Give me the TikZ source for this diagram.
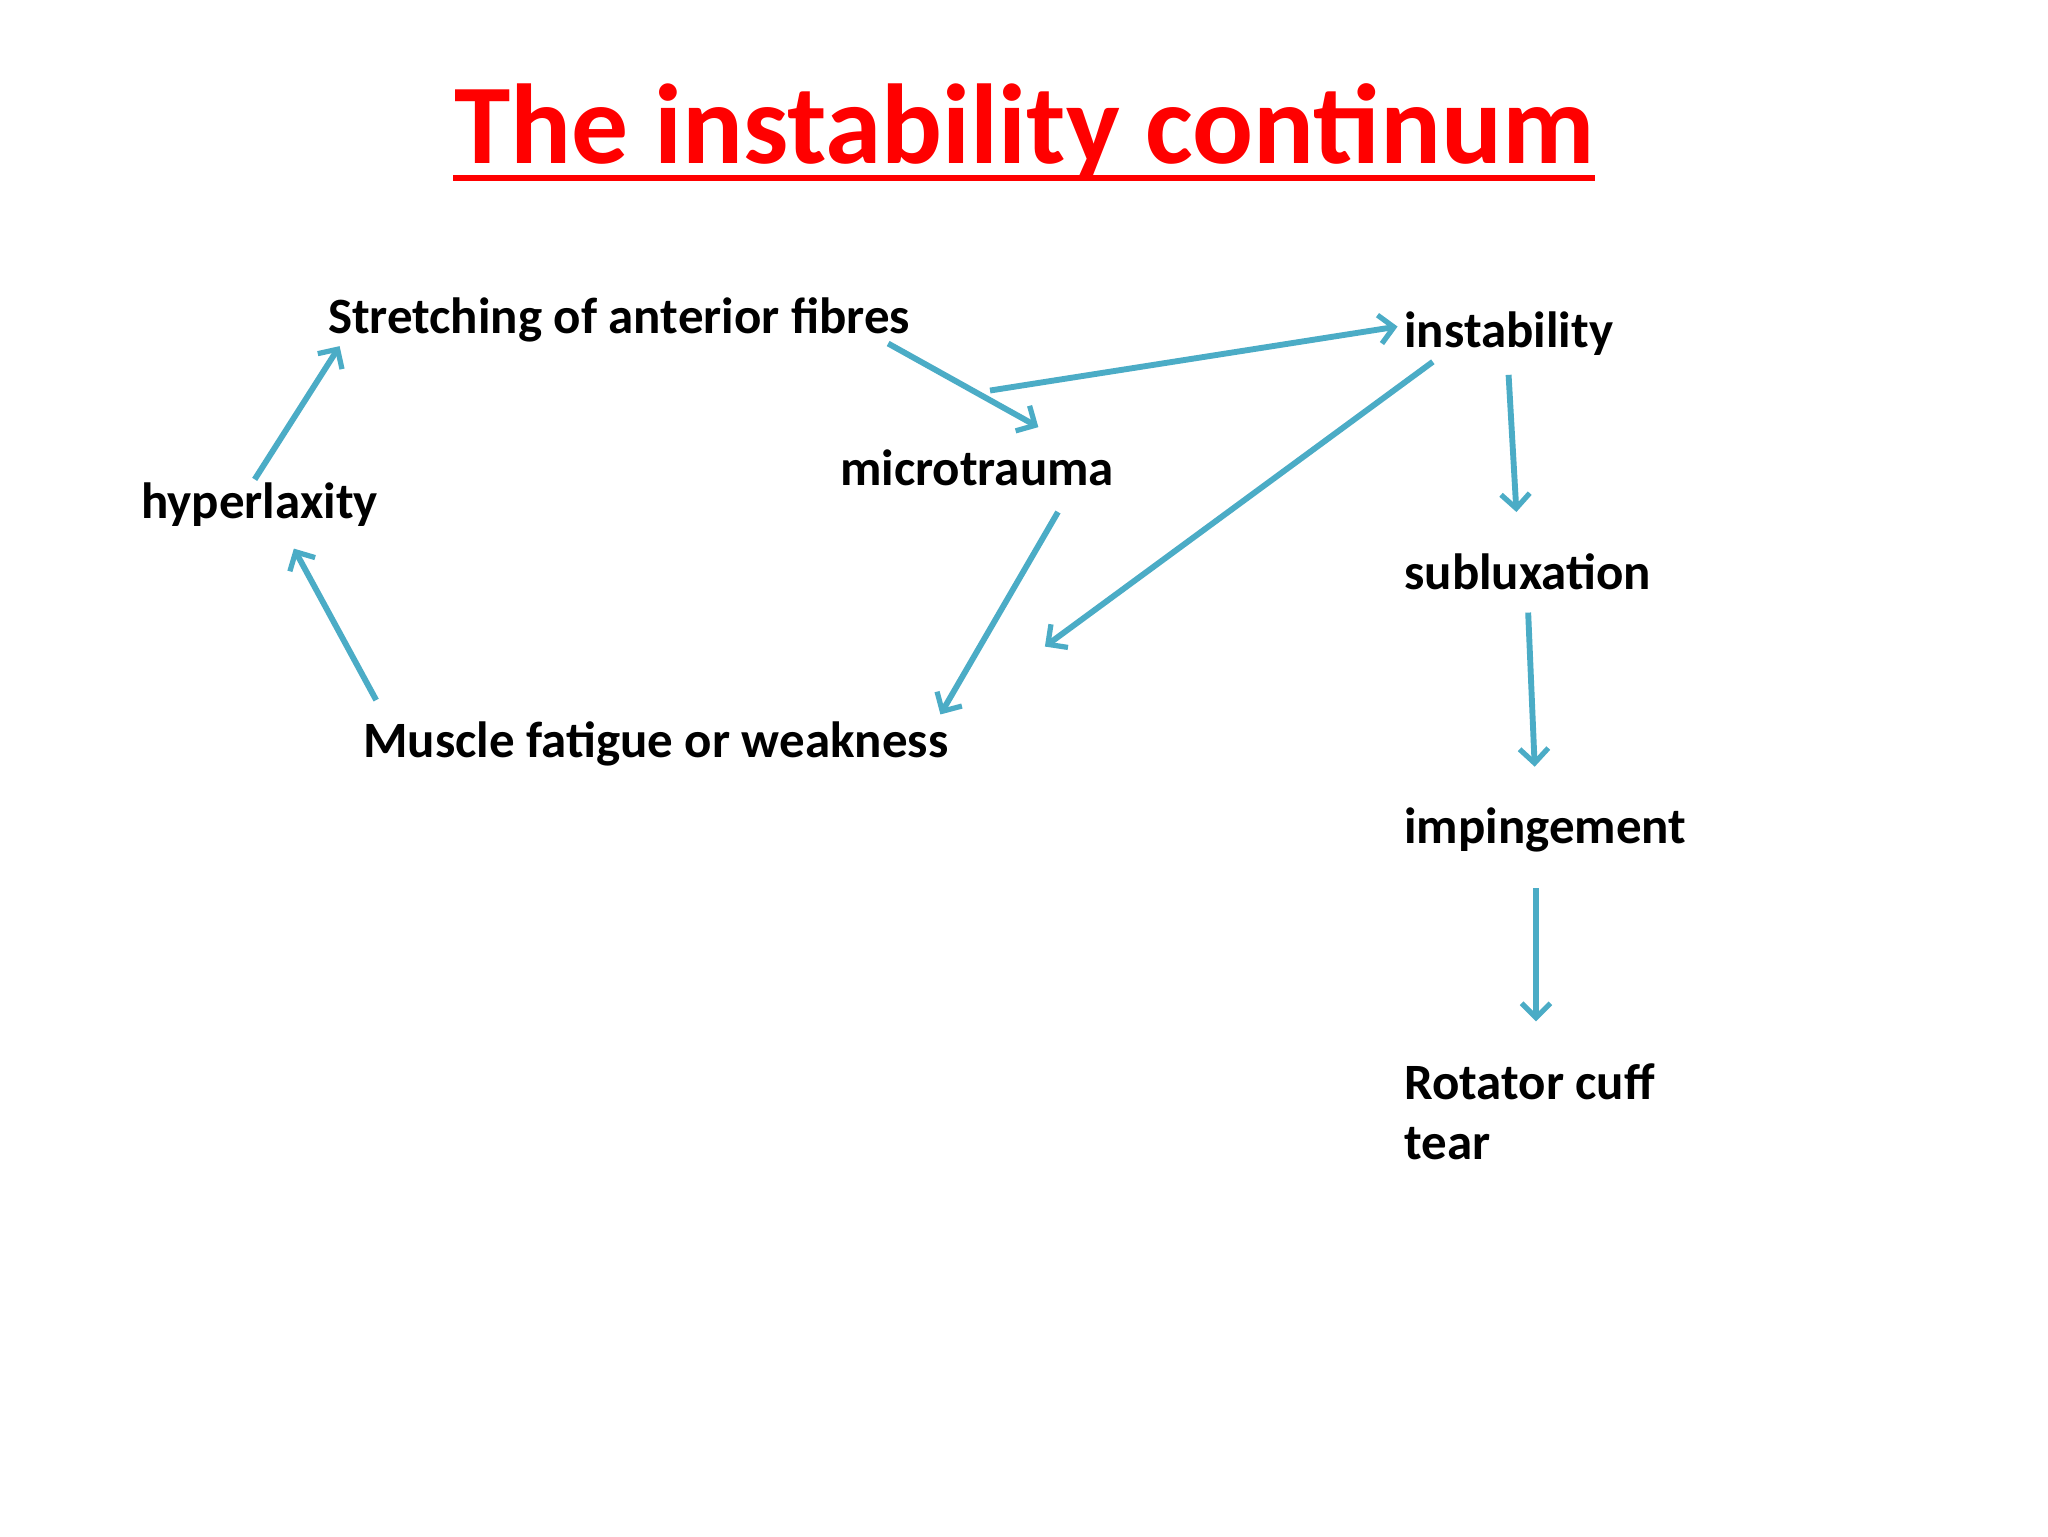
\documentclass[tikz,border=0pt]{standalone}
\usepackage{fontspec}
\setmainfont{Carlito}
\usetikzlibrary{arrows.meta}
\definecolor{arr}{HTML}{4BACC6}
\definecolor{ttl}{HTML}{FF0000}
\begin{document}
\begin{tikzpicture}[x=1pt,y=1pt,
  lbl/.style={anchor=base west,inner sep=0pt,font=\fontsize{39}{48}\selectfont\bfseries},
  con/.style={draw=arr,line width=4.5pt,-{Straight Barb[length=11pt,width=22pt,line width=4pt]}}]
\useasboundingbox (0,0) rectangle (1568,-1176);
\fill[white] (0,0) rectangle (1568,-1176);
\node[anchor=base,inner sep=0pt,text=ttl,font=\fontsize{87}{100}\selectfont\bfseries] (title) at (784,-125) {The instability continum};
\draw[ttl,line width=4.5pt] (347,-136) -- (1221,-136);
\node[lbl] (stretch) at (251,-255) {Stretching of anterior fibres};
\node[lbl] (inst) at (1075,-266) {instability};
\node[lbl] (micro) at (643,-372) {microtrauma};
\node[lbl] (hyper) at (108,-397) {hyperlaxity};
\node[lbl] (sub) at (1075,-451) {subluxation};
\node[lbl] (muscle) at (278,-580) {Muscle fatigue or weakness};
\node[lbl] (imp) at (1075,-646) {impingement};
\node[lbl] (rot) at (1075,-842) {Rotator cuff};
\node[lbl] (tear) at (1075,-888) {tear};
\coordinate (a1) at (195,-367); \coordinate (b1) at (260,-265);
\coordinate (a2) at (680,-263); \coordinate (b2) at (795,-327);
\coordinate (a3) at (758,-299); \coordinate (b3) at (1070,-250);
\coordinate (a4) at (1097,-277); \coordinate (b4) at (800,-495);
\coordinate (a5) at (810,-392); \coordinate (b5) at (720,-547);
\coordinate (a6) at (288,-536); \coordinate (b6) at (225,-420);
\coordinate (a7) at (1155,-287); \coordinate (b7) at (1161,-392);
\coordinate (a8) at (1170,-469); \coordinate (b8) at (1175,-587);
\coordinate (a9) at (1176,-680); \coordinate (b9) at (1176,-782);
\foreach \i in {1,...,9} \draw[con] (a\i) -- (b\i);
\end{tikzpicture}
\end{document}
